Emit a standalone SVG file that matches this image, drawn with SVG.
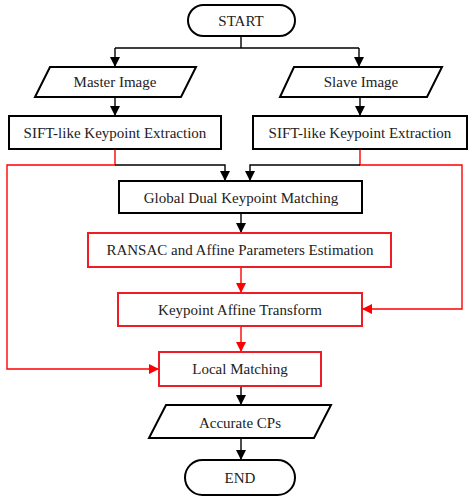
<svg xmlns="http://www.w3.org/2000/svg" width="474" height="503" viewBox="0 0 474 503">
<defs>
<marker id="ab" viewBox="0 0 10 10" refX="10" refY="5" markerWidth="10" markerHeight="10" markerUnits="userSpaceOnUse" orient="auto"><path d="M0,0 L10,5 L0,10 z" fill="#000"/></marker>
<marker id="ar" viewBox="0 0 10 10" refX="10" refY="5" markerWidth="10" markerHeight="10" markerUnits="userSpaceOnUse" orient="auto"><path d="M0,0 L10,5 L0,10 z" fill="#ff0000"/></marker>
<style>
.nb{fill:#fff;stroke:#000;stroke-width:2}
.nr{fill:#fff;stroke:#ee1c24;stroke-width:2}
.t{font-family:"Liberation Serif","Times New Roman",serif;font-size:15px;fill:#222;text-anchor:middle;dominant-baseline:central}
.cb{fill:none;stroke:#000;stroke-width:1.4}
.cr{fill:none;stroke:#ff0000;stroke-width:1.4}
</style>
</defs>
<rect width="474" height="503" fill="#fff"/>
<g id="connectors">
<path class="cb" d="M241,36 V48 M115,48 H359"/>
<path class="cb" d="M115,48 V67" marker-end="url(#ab)"/>
<path class="cb" d="M359,48 V67" marker-end="url(#ab)"/>
<path class="cb" d="M115,97 V116" marker-end="url(#ab)"/>
<path class="cb" d="M360,97 V116" marker-end="url(#ab)"/>
<path class="cr" d="M115,150 V165 H7 V369 H159" marker-end="url(#ar)"/>
<path class="cb" d="M115,165 H225 V181" marker-end="url(#ab)"/>
<path class="cr" d="M360,150 V165 H462 V309 H362" marker-end="url(#ar)"/>
<path class="cb" d="M360,165 H250 V181" marker-end="url(#ab)"/>
<path class="cb" d="M241,213 V233" marker-end="url(#ab)"/>
<path class="cr" d="M241,267 V293" marker-end="url(#ar)"/>
<path class="cr" d="M241,326 V352" marker-end="url(#ar)"/>
<path class="cb" d="M241,386 V405" marker-end="url(#ab)"/>
<path class="cb" d="M241,438 V460" marker-end="url(#ab)"/>
</g>
<g id="start"><rect class="nb" x="188" y="5" width="107" height="31" rx="15.5"/><text class="t" x="241" y="21">START</text></g>
<g id="master"><path class="nb" d="M50,67 H196 L181,97 H35 Z"/><text class="t" x="115" y="82">Master Image</text></g>
<g id="slave"><path class="nb" d="M294,67 H442 L427,97 H280 Z"/><text class="t" x="361" y="82">Slave Image</text></g>
<g id="sift1"><rect class="nb" x="9" y="116" width="212" height="33"/><text class="t" x="115" y="133">SIFT-like Keypoint Extraction</text></g>
<g id="sift2"><rect class="nb" x="253" y="116" width="214" height="33"/><text class="t" x="360" y="133">SIFT-like Keypoint Extraction</text></g>
<g id="global"><rect class="nb" x="119" y="181" width="243" height="32"/><text class="t" x="241" y="198">Global Dual Keypoint Matching</text></g>
<g id="ransac"><rect class="nr" x="88" y="233" width="303" height="34"/><text class="t" x="240" y="250">RANSAC and Affine Parameters Estimation</text></g>
<g id="kat"><rect class="nr" x="118" y="293" width="244" height="33"/><text class="t" x="240" y="310">Keypoint Affine Transform</text></g>
<g id="local"><rect class="nr" x="159" y="352" width="162" height="34"/><text class="t" x="240" y="369">Local Matching</text></g>
<g id="accurate"><path class="nb" d="M166,405 H331 L314,438 H149 Z"/><text class="t" x="240" y="423">Accurate CPs</text></g>
<g id="end"><rect class="nb" x="185" y="460" width="110" height="35" rx="17.5"/><text class="t" x="240" y="478">END</text></g>
</svg>
